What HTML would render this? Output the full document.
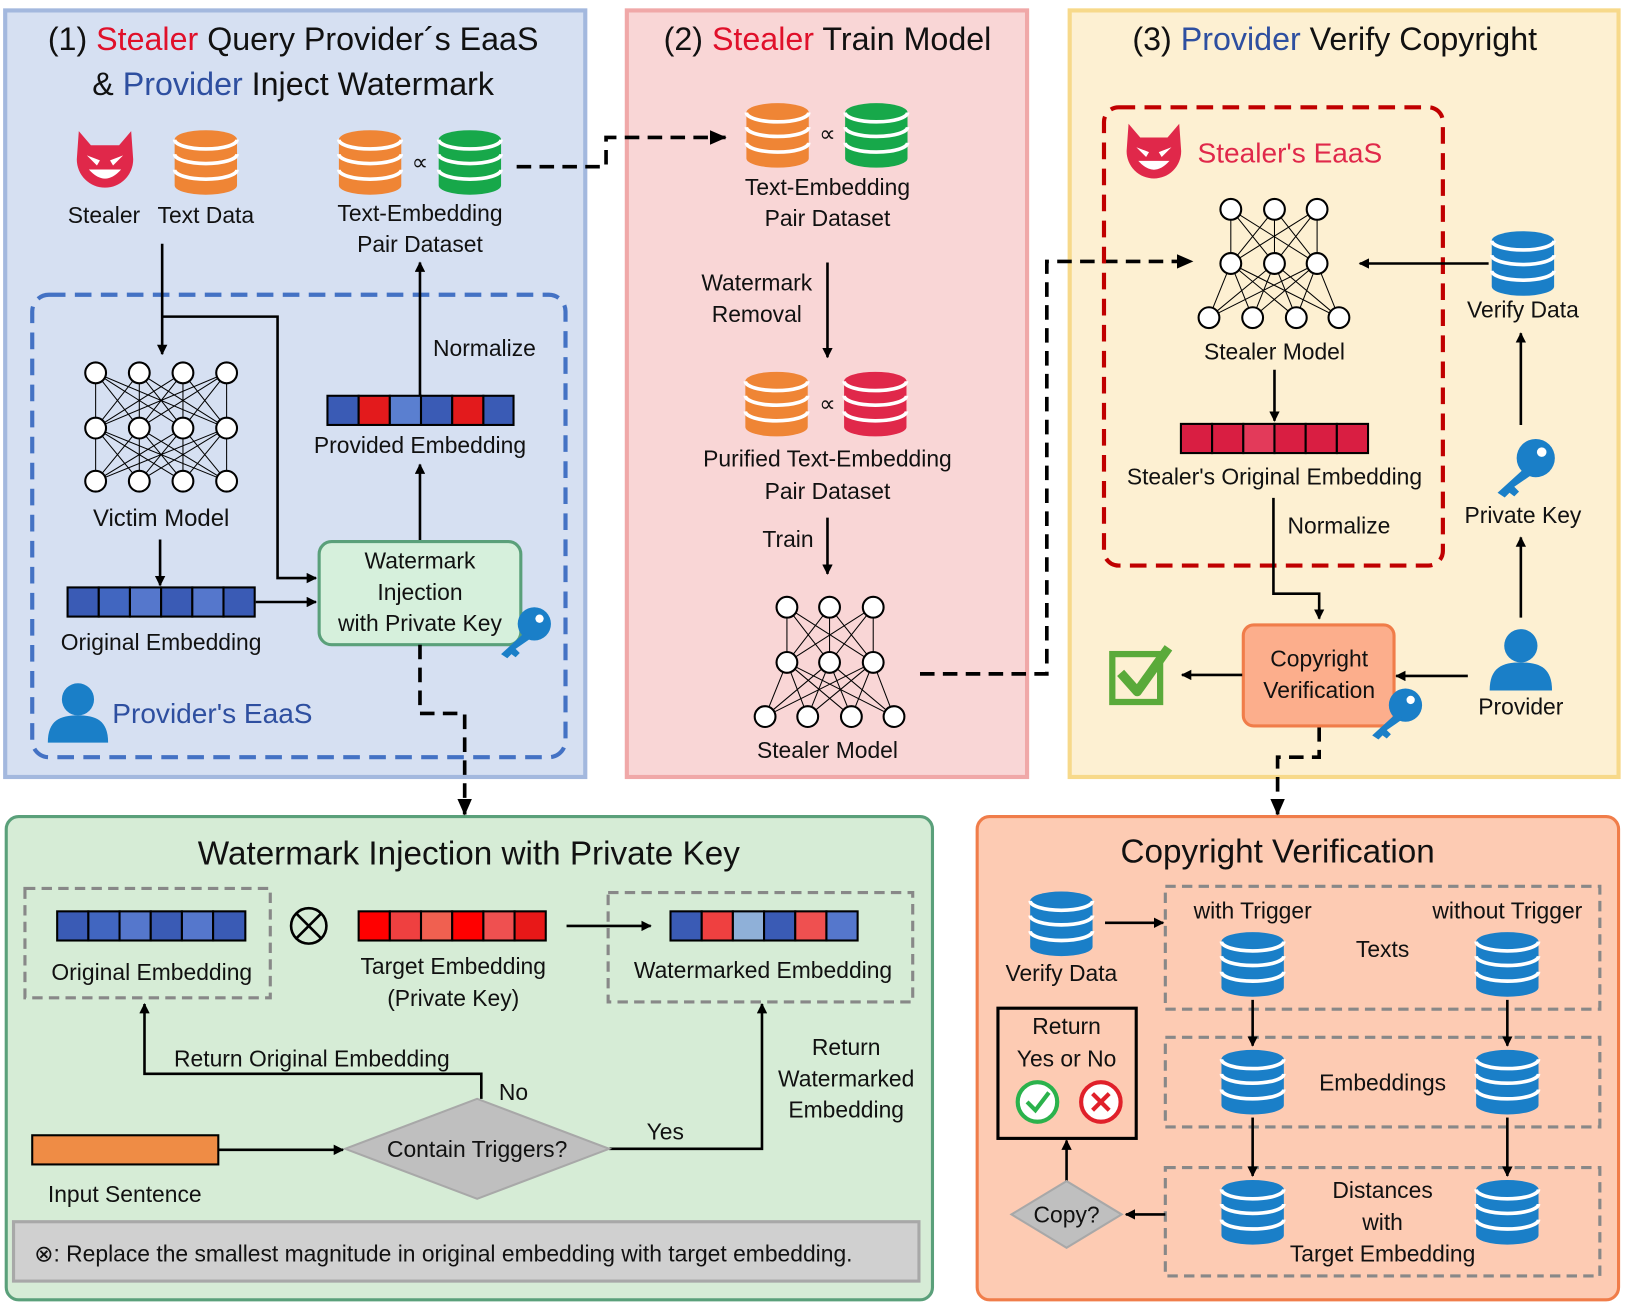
<!DOCTYPE html>
<html><head><meta charset="utf-8"><style>
html,body{margin:0;padding:0;background:#fff}
svg{display:block}
text{font-family:"Liberation Sans",Arial,sans-serif;fill:#111}
</style></head><body>
<svg width="1630" height="1304" viewBox="0 0 1568 1252" preserveAspectRatio="none" xmlns="http://www.w3.org/2000/svg">
<defs>
<marker id="ah" markerWidth="10" markerHeight="10" refX="9" refY="5" orient="auto" markerUnits="userSpaceOnUse" viewBox="0 0 10 10"><path d="M0 0L10 5L0 10z" fill="#000"/></marker>
<marker id="ahb" markerWidth="16" markerHeight="14" refX="15" refY="7" orient="auto" markerUnits="userSpaceOnUse" viewBox="0 0 16 14"><path d="M0 0L16 7L0 14z" fill="#000"/></marker>
<symbol id="db" viewBox="0 0 60 62" overflow="visible">
<path d="M0 9v44a30 9 0 0 0 60 0v-44z" fill="currentColor"/>
<ellipse cx="30" cy="9" rx="30" ry="9" fill="currentColor"/>
<path d="M0 9a30 9 0 0 0 60 0M0 23a30 9 0 0 0 60 0M0 38a30 9 0 0 0 60 0" stroke="#fff" stroke-width="3.5" fill="none"/>
</symbol>
<symbol id="person" viewBox="0 0 60 60" overflow="visible">
<circle cx="30" cy="17" r="16" fill="#1a7fc8"/>
<path d="M0 60C0 38 12 33 30 33C48 33 60 38 60 60z" fill="#1a7fc8"/>
</symbol>
<symbol id="key" viewBox="0 0 54 50" overflow="visible">
<circle cx="36" cy="17" r="16" fill="#1a7fc8"/>
<circle cx="41" cy="12" r="4" fill="#fff"/>
<path d="M26 26L4 46L10 50L14 46L18 49L22 45L18 41L34 30z" fill="#1a7fc8"/>
</symbol>
<symbol id="devil" viewBox="0 0 64 64" overflow="visible">
<path d="M6 2L18 16L46 16L58 2L60 30A28 28 0 1 1 4 30z" fill="#e0284a"/>
<path d="M14 26L27 31L24 36ZM50 26L37 31L40 36Z" fill="#fff"/>
<path d="M16 40Q32 58 48 40Z" fill="#fff"/>
</symbol>
</defs>

<rect x="5" y="10" width="558" height="736" fill="#d6e0f2" stroke="#a3b8de" stroke-width="4"/>
<rect x="603" y="10" width="385" height="736" fill="#f9d6d6" stroke="#f0a8a8" stroke-width="4"/>
<rect x="1029" y="10" width="528" height="736" fill="#fdf0d2" stroke="#f7d98a" stroke-width="4"/>
<rect x="6" y="784" width="891" height="464" rx="12" fill="#d6ecd6" stroke="#5aa07a" stroke-width="3"/>
<rect x="940" y="784" width="617" height="464" rx="12" fill="#fdcbb3" stroke="#f07d4a" stroke-width="3"/>

<text x="282" y="48" font-size="31" text-anchor="middle">(1) <tspan style="fill:#e0102a">Stealer</tspan> Query Provider´s EaaS</text>
<text x="282" y="91" font-size="31" text-anchor="middle">&amp; <tspan style="fill:#2e4fa0">Provider</tspan> Inject Watermark</text>
<use href="#devil" x="70" y="124" width="62" height="62"/>
<use href="#db" x="167" y="125" width="62" height="62" color="#ef8535"/>
<text x="100" y="214" font-size="22" text-anchor="middle">Stealer</text>
<text x="198" y="214" font-size="22" text-anchor="middle">Text Data</text>
<use href="#db" x="325" y="125" width="62" height="62" color="#ef8535"/>
<text x="404" y="163" font-size="22" text-anchor="middle">∝</text>
<use href="#db" x="421" y="125" width="62" height="62" color="#17a84a"/>
<text x="404" y="212" font-size="22" text-anchor="middle">Text-Embedding</text>
<text x="404" y="242" font-size="22" text-anchor="middle">Pair Dataset</text>

<rect x="31" y="283" width="513" height="444" rx="16" fill="none" stroke="#4472c4" stroke-width="4" stroke-dasharray="16 9"/>
<path d="M156 234V340" stroke="#000" stroke-width="2.5" fill="none" marker-end="url(#ah)"/>
<path d="M156 304H267V555H304" stroke="#000" stroke-width="2.5" fill="none" marker-end="url(#ah)"/>
<path d="M154 518V562" stroke="#000" stroke-width="2.5" fill="none" marker-end="url(#ah)"/>
<path d="M246 578H304" stroke="#000" stroke-width="2.5" fill="none" marker-end="url(#ah)"/>
<path d="M404 519V446" stroke="#000" stroke-width="2.5" fill="none" marker-end="url(#ah)"/>
<path d="M404 380V252" stroke="#000" stroke-width="2.5" fill="none" marker-end="url(#ah)"/>

<path stroke="#000" stroke-width="1" fill="none" d="M92 358L92 411M92 358L134 411M92 358L176 411M92 358L218 411M134 358L92 411M134 358L134 411M134 358L176 411M134 358L218 411M176 358L92 411M176 358L134 411M176 358L176 411M176 358L218 411M218 358L92 411M218 358L134 411M218 358L176 411M218 358L218 411M92 411L92 462M92 411L134 462M92 411L176 462M92 411L218 462M134 411L92 462M134 411L134 462M134 411L176 462M134 411L218 462M176 411L92 462M176 411L134 462M176 411L176 462M176 411L218 462M218 411L92 462M218 411L134 462M218 411L176 462M218 411L218 462"/>
<g fill="#fff" stroke="#000" stroke-width="2">
<circle cx="92" cy="358" r="10"/><circle cx="134" cy="358" r="10"/><circle cx="176" cy="358" r="10"/><circle cx="218" cy="358" r="10"/>
<circle cx="92" cy="411" r="10"/><circle cx="134" cy="411" r="10"/><circle cx="176" cy="411" r="10"/><circle cx="218" cy="411" r="10"/>
<circle cx="92" cy="462" r="10"/><circle cx="134" cy="462" r="10"/><circle cx="176" cy="462" r="10"/><circle cx="218" cy="462" r="10"/>
</g>
<text x="155" y="505" font-size="23" text-anchor="middle">Victim Model</text>
<g stroke="#000" stroke-width="2">
<rect x="65" y="564" width="30" height="28" fill="#3a5bb5"/><rect x="95" y="564" width="30" height="28" fill="#4166c0"/><rect x="125" y="564" width="30" height="28" fill="#5577cc"/><rect x="155" y="564" width="30" height="28" fill="#3a5bb5"/><rect x="185" y="564" width="30" height="28" fill="#5577cc"/><rect x="215" y="564" width="30" height="28" fill="#3a5bb5"/>
</g>
<text x="155" y="624" font-size="22" text-anchor="middle">Original Embedding</text>
<g stroke="#000" stroke-width="2">
<rect x="315" y="380" width="30" height="28" fill="#3a5bb5"/><rect x="345" y="380" width="30" height="28" fill="#e31a1c"/><rect x="375" y="380" width="30" height="28" fill="#5a7fd0"/><rect x="405" y="380" width="30" height="28" fill="#3a5bb5"/><rect x="435" y="380" width="30" height="28" fill="#e31a1c"/><rect x="465" y="380" width="29" height="28" fill="#3a5bb5"/>
</g>
<text x="404" y="435" font-size="22" text-anchor="middle">Provided Embedding</text>
<text x="466" y="342" font-size="22" text-anchor="middle">Normalize</text>
<rect x="307" y="520" width="194" height="99" rx="12" fill="#d6f0dc" stroke="#5aa07a" stroke-width="3"/>
<text x="404" y="546" font-size="22" text-anchor="middle">Watermark</text>
<text x="404" y="576" font-size="22" text-anchor="middle">Injection</text>
<text x="404" y="606" font-size="22" text-anchor="middle">with Private Key</text>
<use href="#key" x="478" y="582" width="54" height="50"/>
<use href="#person" x="45" y="655" width="60" height="58"/>
<text x="108" y="694" font-size="27" style="fill:#2e4fa0">Provider's EaaS</text>

<g stroke="#000" stroke-width="3.5" fill="none" stroke-dasharray="14 8">
<path d="M497 160H583V132H698" marker-end="url(#ahb)"/>
<path d="M885 647H1007V251H1147" marker-end="url(#ahb)"/>
<path d="M404 619V685H447V782" marker-end="url(#ahb)"/>
<path d="M1269 698V727H1229V782" marker-end="url(#ahb)"/>
</g>

<text x="796" y="48" font-size="31" text-anchor="middle">(2) <tspan style="fill:#e0102a">Stealer</tspan> Train Model</text>
<use href="#db" x="717" y="99" width="62" height="62" color="#ef8535"/>
<text x="796" y="136" font-size="22" text-anchor="middle">∝</text>
<use href="#db" x="812" y="99" width="62" height="62" color="#17a84a"/>
<text x="796" y="187" font-size="22" text-anchor="middle">Text-Embedding</text>
<text x="796" y="217" font-size="22" text-anchor="middle">Pair Dataset</text>
<text x="728" y="279" font-size="22" text-anchor="middle">Watermark</text>
<text x="728" y="309" font-size="22" text-anchor="middle">Removal</text>
<path d="M796 252V343" stroke="#000" stroke-width="2.5" marker-end="url(#ah)"/>
<use href="#db" x="716" y="357" width="62" height="62" color="#ef8535"/>
<text x="796" y="395" font-size="22" text-anchor="middle">∝</text>
<use href="#db" x="811" y="357" width="62" height="62" color="#e0284a"/>
<text x="796" y="448" font-size="22" text-anchor="middle">Purified Text-Embedding</text>
<text x="796" y="479" font-size="22" text-anchor="middle">Pair Dataset</text>
<text x="758" y="525" font-size="22" text-anchor="middle">Train</text>
<path d="M796 497V551" stroke="#000" stroke-width="2.5" marker-end="url(#ah)"/>
<path stroke="#000" stroke-width="1" fill="none" d="M757 583L757 636M757 583L798 636M757 583L840 636M798 583L757 636M798 583L798 636M798 583L840 636M840 583L757 636M840 583L798 636M840 583L840 636M757 636L736 688M757 636L777 688M757 636L819 688M757 636L860 688M798 636L736 688M798 636L777 688M798 636L819 688M798 636L860 688M840 636L736 688M840 636L777 688M840 636L819 688M840 636L860 688"/>
<g fill="#fff" stroke="#000" stroke-width="2">
<circle cx="757" cy="583" r="10"/><circle cx="798" cy="583" r="10"/><circle cx="840" cy="583" r="10"/>
<circle cx="757" cy="636" r="10"/><circle cx="798" cy="636" r="10"/><circle cx="840" cy="636" r="10"/>
<circle cx="736" cy="688" r="10"/><circle cx="777" cy="688" r="10"/><circle cx="819" cy="688" r="10"/><circle cx="860" cy="688" r="10"/>
</g>
<text x="796" y="728" font-size="22" text-anchor="middle">Stealer Model</text>

<text x="1284" y="48" font-size="31" text-anchor="middle">(3) <tspan style="fill:#2e4fa0">Provider</tspan> Verify Copyright</text>
<rect x="1062" y="103" width="326" height="440" rx="14" fill="none" stroke="#c00000" stroke-width="4" stroke-dasharray="16 9"/>
<use href="#devil" x="1080" y="117" width="60" height="60"/>
<text x="1152" y="156" font-size="27" style="fill:#e0284a">Stealer's EaaS</text>
<path stroke="#000" stroke-width="1" fill="none" d="M1184 201L1184 253M1184 201L1226 253M1184 201L1267 253M1226 201L1184 253M1226 201L1226 253M1226 201L1267 253M1267 201L1184 253M1267 201L1226 253M1267 201L1267 253M1184 253L1163 305M1184 253L1205 305M1184 253L1247 305M1184 253L1288 305M1226 253L1163 305M1226 253L1205 305M1226 253L1247 305M1226 253L1288 305M1267 253L1163 305M1267 253L1205 305M1267 253L1247 305M1267 253L1288 305"/>
<g fill="#fff" stroke="#000" stroke-width="2">
<circle cx="1184" cy="201" r="10"/><circle cx="1226" cy="201" r="10"/><circle cx="1267" cy="201" r="10"/>
<circle cx="1184" cy="253" r="10"/><circle cx="1226" cy="253" r="10"/><circle cx="1267" cy="253" r="10"/>
<circle cx="1163" cy="305" r="10"/><circle cx="1205" cy="305" r="10"/><circle cx="1247" cy="305" r="10"/><circle cx="1288" cy="305" r="10"/>
</g>
<text x="1226" y="345" font-size="22" text-anchor="middle">Stealer Model</text>
<path d="M1226 355V404" stroke="#000" stroke-width="2.5" marker-end="url(#ah)"/>
<g stroke="#000" stroke-width="2">
<rect x="1136" y="407" width="30" height="28" fill="#d91e42"/><rect x="1166" y="407" width="30" height="28" fill="#d91e42"/><rect x="1196" y="407" width="30" height="28" fill="#e33a5a"/><rect x="1226" y="407" width="30" height="28" fill="#d91e42"/><rect x="1256" y="407" width="30" height="28" fill="#d91e42"/><rect x="1286" y="407" width="30" height="28" fill="#d91e42"/>
</g>
<text x="1226" y="465" font-size="22" text-anchor="middle">Stealer's Original Embedding</text>
<text x="1288" y="512" font-size="22" text-anchor="middle">Normalize</text>
<path d="M1225 478V570H1269V594" stroke="#000" stroke-width="2.5" fill="none" marker-end="url(#ah)"/>
<path d="M1432 253H1308" stroke="#000" stroke-width="2.5" marker-end="url(#ah)"/>
<use href="#db" x="1434" y="222" width="62" height="62" color="#1a7fc8"/>
<text x="1465" y="305" font-size="22" text-anchor="middle">Verify Data</text>
<path d="M1463 408V320" stroke="#000" stroke-width="2.5" marker-end="url(#ah)"/>
<use href="#key" x="1436" y="418" width="62" height="62"/>
<text x="1465" y="502" font-size="22" text-anchor="middle">Private Key</text>
<path d="M1463 593V516" stroke="#000" stroke-width="2.5" marker-end="url(#ah)"/>
<use href="#person" x="1432" y="603" width="62" height="60"/>
<text x="1463" y="686" font-size="22" text-anchor="middle">Provider</text>
<path d="M1412 649H1343" stroke="#000" stroke-width="2.5" marker-end="url(#ah)"/>
<rect x="1196" y="600" width="145" height="97" rx="10" fill="#fcae8c" stroke="#f07d4a" stroke-width="3"/>
<text x="1269" y="640" font-size="22" text-anchor="middle">Copyright</text>
<text x="1269" y="670" font-size="22" text-anchor="middle">Verification</text>
<use href="#key" x="1316" y="660" width="54" height="50"/>
<path d="M1195 648H1137" stroke="#000" stroke-width="2.5" marker-end="url(#ah)"/>
<rect x="1070" y="628" width="46" height="46" fill="none" stroke="#5aaa3a" stroke-width="6"/>
<path d="M1078 646L1094 664L1124 622" stroke="#5aaa3a" stroke-width="9" fill="none" stroke-linejoin="round"/>

<text x="451" y="830" font-size="32" text-anchor="middle">Watermark Injection with Private Key</text>
<rect x="24" y="853" width="236" height="105" fill="none" stroke="#888" stroke-width="3" stroke-dasharray="10 6"/>
<rect x="585" y="857" width="293" height="105" fill="none" stroke="#888" stroke-width="3" stroke-dasharray="10 6"/>
<g stroke="#000" stroke-width="2">
<rect x="55" y="875" width="30" height="28" fill="#3a5bb5"/><rect x="85" y="875" width="30" height="28" fill="#4166c0"/><rect x="115" y="875" width="30" height="28" fill="#5577cc"/><rect x="145" y="875" width="30" height="28" fill="#3a5bb5"/><rect x="175" y="875" width="30" height="28" fill="#5577cc"/><rect x="205" y="875" width="31" height="28" fill="#3a5bb5"/>
<rect x="345" y="875" width="30" height="28" fill="#ff0000"/><rect x="375" y="875" width="30" height="28" fill="#ef4040"/><rect x="405" y="875" width="30" height="28" fill="#f06050"/><rect x="435" y="875" width="30" height="28" fill="#ff0000"/><rect x="465" y="875" width="30" height="28" fill="#ef5050"/><rect x="495" y="875" width="30" height="28" fill="#e81818"/>
<rect x="645" y="875" width="30" height="28" fill="#3a5bb5"/><rect x="675" y="875" width="30" height="28" fill="#ef4040"/><rect x="705" y="875" width="30" height="28" fill="#8fb0d8"/><rect x="735" y="875" width="30" height="28" fill="#3a5bb5"/><rect x="765" y="875" width="30" height="28" fill="#ef5050"/><rect x="795" y="875" width="30" height="28" fill="#5577cc"/>
</g>
<text x="146" y="941" font-size="22" text-anchor="middle">Original Embedding</text>
<circle cx="297" cy="889" r="17" fill="none" stroke="#000" stroke-width="2.5"/>
<path d="M285 877L309 901M309 877L285 901" stroke="#000" stroke-width="2.5"/>
<text x="436" y="935" font-size="22" text-anchor="middle">Target Embedding</text>
<text x="436" y="966" font-size="22" text-anchor="middle">(Private Key)</text>
<path d="M545 889H626" stroke="#000" stroke-width="2.5" marker-end="url(#ah)"/>
<text x="734" y="939" font-size="22" text-anchor="middle">Watermarked Embedding</text>
<path d="M463 1055V1031H139V964" stroke="#000" stroke-width="2.5" fill="none" marker-end="url(#ah)"/>
<path d="M586 1103H733V964" stroke="#000" stroke-width="2.5" fill="none" marker-end="url(#ah)"/>
<text x="300" y="1024" font-size="22" text-anchor="middle">Return Original Embedding</text>
<text x="494" y="1056" font-size="22" text-anchor="middle">No</text>
<text x="640" y="1094" font-size="22" text-anchor="middle">Yes</text>
<text x="814" y="1013" font-size="22" text-anchor="middle">Return</text>
<text x="814" y="1043" font-size="22" text-anchor="middle">Watermarked</text>
<text x="814" y="1073" font-size="22" text-anchor="middle">Embedding</text>
<path d="M332 1103L459 1055L586 1103L459 1151Z" fill="#bfbfbf" stroke="#a8a8a8" stroke-width="2"/>
<text x="459" y="1111" font-size="22" text-anchor="middle">Contain Triggers?</text>
<rect x="31" y="1090" width="179" height="28" fill="#ef8c45" stroke="#000" stroke-width="2"/>
<path d="M210 1104H330" stroke="#000" stroke-width="2.5" marker-end="url(#ah)"/>
<text x="120" y="1154" font-size="22" text-anchor="middle">Input Sentence</text>
<rect x="13" y="1173" width="871" height="57" fill="#d0d0d0" stroke="#a8a8a8" stroke-width="3"/>
<text x="33" y="1211" font-size="22">⊗: Replace the smallest magnitude in original embedding with target embedding.</text>

<text x="1229" y="828" font-size="32" text-anchor="middle">Copyright Verification</text>
<use href="#db" x="990" y="856" width="62" height="62" color="#1a7fc8"/>
<text x="1021" y="942" font-size="22" text-anchor="middle">Verify Data</text>
<path d="M1063 886H1119" stroke="#000" stroke-width="2.5" marker-end="url(#ah)"/>
<g fill="none" stroke="#888" stroke-width="3" stroke-dasharray="10 6">
<rect x="1121" y="851" width="418" height="118"/>
<rect x="1121" y="996" width="418" height="86"/>
<rect x="1121" y="1121" width="418" height="104"/>
</g>
<text x="1205" y="882" font-size="22" text-anchor="middle">with Trigger</text>
<text x="1450" y="882" font-size="22" text-anchor="middle">without Trigger</text>
<text x="1330" y="919" font-size="22" text-anchor="middle">Texts</text>
<text x="1330" y="1047" font-size="22" text-anchor="middle">Embeddings</text>
<text x="1330" y="1150" font-size="22" text-anchor="middle">Distances</text>
<text x="1330" y="1181" font-size="22" text-anchor="middle">with</text>
<text x="1330" y="1211" font-size="22" text-anchor="middle">Target Embedding</text>
<use href="#db" x="1174" y="895" width="62" height="62" color="#1a7fc8"/>
<use href="#db" x="1419" y="895" width="62" height="62" color="#1a7fc8"/>
<use href="#db" x="1174" y="1008" width="62" height="62" color="#1a7fc8"/>
<use href="#db" x="1419" y="1008" width="62" height="62" color="#1a7fc8"/>
<use href="#db" x="1174" y="1133" width="62" height="62" color="#1a7fc8"/>
<use href="#db" x="1419" y="1133" width="62" height="62" color="#1a7fc8"/>
<g stroke="#000" stroke-width="2.5" marker-end="url(#ah)">
<path d="M1205 960V1004"/><path d="M1450 960V1004"/>
<path d="M1205 1073V1129"/><path d="M1450 1073V1129"/>
<path d="M1121 1166H1083"/>
<path d="M1026 1134V1095"/>
</g>
<rect x="960" y="968" width="133" height="125" fill="none" stroke="#000" stroke-width="3"/>
<text x="1026" y="993" font-size="22" text-anchor="middle">Return</text>
<text x="1026" y="1024" font-size="22" text-anchor="middle">Yes or No</text>
<circle cx="998" cy="1058" r="19" fill="#fff" stroke="#2bb24c" stroke-width="4"/>
<path d="M988 1058L996 1066L1009 1049" stroke="#2bb24c" stroke-width="4" fill="none"/>
<circle cx="1059" cy="1058" r="19" fill="#fff" stroke="#e0202a" stroke-width="4"/>
<path d="M1051 1050L1067 1066M1067 1050L1051 1066" stroke="#e0202a" stroke-width="4"/>
<path d="M973 1166L1026 1134L1079 1166L1026 1198Z" fill="#bfbfbf" stroke="#a8a8a8" stroke-width="2"/>
<text x="1026" y="1174" font-size="22" text-anchor="middle">Copy?</text>
</svg>
</body></html>
